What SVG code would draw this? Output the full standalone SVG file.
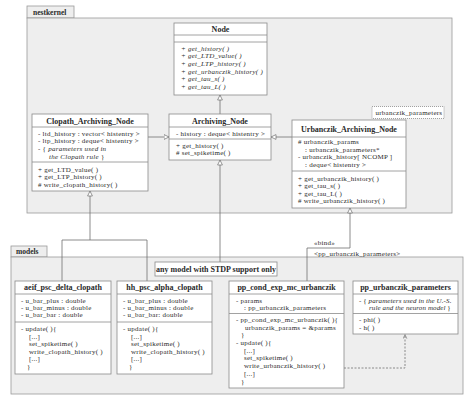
<svg xmlns="http://www.w3.org/2000/svg" width="474" height="402" viewBox="0 0 474 402">
<style>
text{font-family:"Liberation Serif","DejaVu Serif",serif;font-size:7px;letter-spacing:0.25px;fill:#2a2a2a}
.b{font-weight:bold;font-size:8px;letter-spacing:0;text-anchor:middle}
.pk{font-weight:bold;font-size:7.5px;letter-spacing:0}
.i{font-style:italic}
.tight{letter-spacing:0.1px}
.box{fill:#fff;stroke:#8a8a8a;stroke-width:0.8}
.pkg{fill:#eeeeee;stroke:#9a9a9a;stroke-width:0.8}
.sep{stroke:#8a8a8a;stroke-width:0.8}
.ln{fill:none;stroke:#6f6f6f;stroke-width:0.8}
.dash{fill:none;stroke:#6f6f6f;stroke-width:0.8;stroke-dasharray:2,1.5}
.dot{fill:#fff;stroke:#8a8a8a;stroke-width:0.8;stroke-dasharray:1,1}
</style>
<defs>
<marker id="tri" viewBox="0 0 6 6" refX="5.5" refY="3" markerWidth="6" markerHeight="6" markerUnits="userSpaceOnUse" orient="auto">
<path d="M0.5,0.6 L5.5,3 L0.5,5.4 z" fill="#fff" stroke="#6f6f6f" stroke-width="0.7"/>
</marker>
<marker id="open" viewBox="0 0 6 6" refX="5.5" refY="3" markerWidth="5" markerHeight="5" markerUnits="userSpaceOnUse" orient="auto">
<path d="M0.5,0.8 L5.5,3 L0.5,5.2" fill="none" stroke="#6f6f6f" stroke-width="0.8"/>
</marker>
</defs>
<rect width="474" height="402" fill="#fff"/>

<g id="nestkernel">
<rect class="pkg" x="27" y="6" width="47" height="12"/>
<rect class="pkg" x="27" y="18" width="425" height="195"/>
<text class="pk" x="33" y="14.5">nestkernel</text>
</g>

<g id="models">
<rect class="pkg" x="11" y="246" width="36" height="11"/>
<rect class="pkg" x="11" y="257" width="452" height="137"/>
<text class="pk" x="16" y="254">models</text>
</g>

<g id="connectors">
<path class="ln" d="M220,114 L220,95" marker-end="url(#tri)"/>
<path class="ln" d="M148,137 L169,137" marker-end="url(#tri)"/>
<path class="ln" d="M292,137 L271,137" marker-end="url(#tri)"/>
<path class="ln" d="M62,281 L62,240 L147,240 L147,281"/>
<path class="ln" d="M90,240 L90,191" marker-end="url(#tri)"/>
<path class="ln" d="M220,262 L220,160" marker-end="url(#tri)"/>
<path class="ln" d="M307,281 L307,248 L350,248 L350,208" marker-end="url(#tri)"/>
<text x="314" y="245">«bind»</text>
<text x="314" y="255.5">&lt;pp_urbanczik_parameters&gt;</text>
<path class="dash" d="M344,368 L405,368 L405,334.5" marker-end="url(#open)"/>
</g>

<g id="node">
<rect class="box" x="174" y="23" width="93" height="72"/>
<line class="sep" x1="174" y1="35" x2="267" y2="35"/>
<line class="sep" x1="174" y1="42" x2="267" y2="42"/>
<text class="b" x="220.5" y="32">Node</text>
<g class="i">
<text x="181" y="50.5">+ get_history( )</text>
<text x="181" y="58.2">+ get_LTD_value( )</text>
<text x="181" y="65.9">+ get_LTP_history( )</text>
<text x="181" y="73.6">+ get_urbanczik_history( )</text>
<text x="181" y="81.3">+ get_tau_s( )</text>
<text x="181" y="89">+ get_tau_L( )</text>
</g>
</g>

<g id="clopath_archiving_node">
<rect class="box" x="32" y="114" width="116" height="77"/>
<line class="sep" x1="32" y1="127" x2="148" y2="127"/>
<line class="sep" x1="32" y1="162" x2="148" y2="162"/>
<text class="b" x="90" y="124">Clopath_Archiving_Node</text>
<text x="38" y="135.5">- ltd_history : vector&lt; histentry &gt;</text>
<text x="38" y="143.3">- ltp_history : deque&lt; histentry &gt;</text>
<text x="38" y="151.1">- { <tspan class="i">parameters used in</tspan></text>
<text x="49" y="158.9"><tspan class="i">the Clopath rule</tspan> }</text>
<text x="38" y="171.5">+ get_LTD_value( )</text>
<text x="38" y="179.3">+ get_LTP_history( )</text>
<text x="38" y="187.1"># write_clopath_history( )</text>
</g>

<g id="archiving_node">
<rect class="box" x="169" y="114" width="102" height="46"/>
<line class="sep" x1="169" y1="127" x2="271" y2="127"/>
<line class="sep" x1="169" y1="139" x2="271" y2="139"/>
<text class="b" x="220" y="124">Archiving_Node</text>
<text x="176" y="135.5">- history : deque&lt; histentry &gt;</text>
<text x="176" y="147.5">+ get_history( )</text>
<text x="176" y="155.3"># set_spiketime( )</text>
</g>

<g id="urbanczik_archiving_node">
<rect class="box" x="292" y="120" width="114" height="88"/>
<line class="sep" x1="292" y1="137" x2="406" y2="137"/>
<line class="sep" x1="292" y1="171" x2="406" y2="171"/>
<text class="b" x="349" y="131.5">Urbanczik_Archiving_Node</text>
<text x="298" y="144.3"># urbanczik_params</text>
<text x="305" y="151.8">: urbanczik_parameters*</text>
<text x="298" y="159.3">- urbanczik_history[ NCOMP ]</text>
<text x="305" y="166.8">: deque&lt; histentry &gt;</text>
<text x="298" y="180.5">+ get_urbanczik_history( )</text>
<text x="298" y="188">+ get_tau_s( )</text>
<text x="298" y="195.5">+ get_tau_L( )</text>
<text x="298" y="203"># write_urbanczik_history( )</text>
<rect class="dot" x="372" y="106.5" width="72" height="12"/>
<text x="375.5" y="114.7">urbanczik_parameters</text>
</g>

<g id="any_model">
<rect class="box" x="155" y="262" width="122" height="14"/>
<text class="b" x="216" y="271.8">any model with STDP support only</text>
</g>

<g id="aeif_psc_delta_clopath">
<rect class="box" x="15" y="281" width="96" height="93"/>
<line class="sep" x1="15" y1="294" x2="111" y2="294"/>
<line class="sep" x1="15" y1="322" x2="111" y2="322"/>
<text class="b" x="63" y="290">aeif_psc_delta_clopath</text>
<text x="21" y="302.7">- u_bar_plus : double</text>
<text x="21" y="310">- u_bar_minus : double</text>
<text x="21" y="317.3">- u_bar_bar : double</text>
<text x="21" y="330.9">- update( ){</text>
<text x="29" y="338.5">[...]</text>
<text x="29" y="346.1">set_spiketime( )</text>
<text x="29" y="353.7">write_clopath_history( )</text>
<text x="29" y="361.3">[...]</text>
<text x="27" y="368.9">}</text>
</g>

<g id="hh_psc_alpha_clopath">
<rect class="box" x="117" y="281" width="95" height="93"/>
<line class="sep" x1="117" y1="294" x2="212" y2="294"/>
<line class="sep" x1="117" y1="322" x2="212" y2="322"/>
<text class="b" x="164.5" y="290">hh_psc_alpha_clopath</text>
<text x="123" y="302.7">- u_bar_plus : double</text>
<text x="123" y="310">- u_bar_minus : double</text>
<text x="123" y="317.3">- u_bar_bar: double</text>
<text x="123" y="330.9">- update( ){</text>
<text x="131" y="338.5">[...]</text>
<text x="131" y="346.1">set_spiketime( )</text>
<text x="131" y="353.7">write_clopath_history( )</text>
<text x="131" y="361.3">[...]</text>
<text x="129" y="368.9">}</text>
</g>

<g id="pp_cond_exp_mc_urbanczik">
<rect class="box" x="229" y="281" width="115" height="107"/>
<line class="sep" x1="229" y1="294" x2="344" y2="294"/>
<line class="sep" x1="229" y1="313.5" x2="344" y2="313.5"/>
<text class="b" x="286.5" y="290">pp_cond_exp_mc_urbanczik</text>
<text x="236" y="302.7">- params</text>
<text x="244" y="310">: pp_urbanczik_parameters</text>
<text x="236" y="321.9">- pp_cond_exp_mc_urbanczik( ){</text>
<text x="245" y="329.6">urbanczik_params = &amp;params</text>
<text x="241" y="337.3">}</text>
<text x="236" y="345">- update( ){</text>
<text x="244" y="352.7">[...]</text>
<text x="244" y="360.4">set_spiketime( )</text>
<text x="244" y="368.1">write_urbanczik_history( )</text>
<text x="244" y="375.8">[...]</text>
<text x="241" y="383.5">}</text>
</g>

<g id="pp_urbanczik_parameters">
<rect class="box" x="353" y="281" width="105" height="53"/>
<line class="sep" x1="353" y1="294" x2="458" y2="294"/>
<line class="sep" x1="353" y1="313.5" x2="458" y2="313.5"/>
<text class="b" x="405.5" y="290">pp_urbanczik_parameters</text>
<text class="tight" x="359" y="302.7">- { <tspan class="i">parameters used in the U.-S.</tspan></text>
<text class="tight" x="369" y="310"><tspan class="i">rule and the neuron model</tspan> }</text>
<text x="359" y="322.4">- phi( )</text>
<text x="359" y="329.7">- h( )</text>
</g>
</svg>
